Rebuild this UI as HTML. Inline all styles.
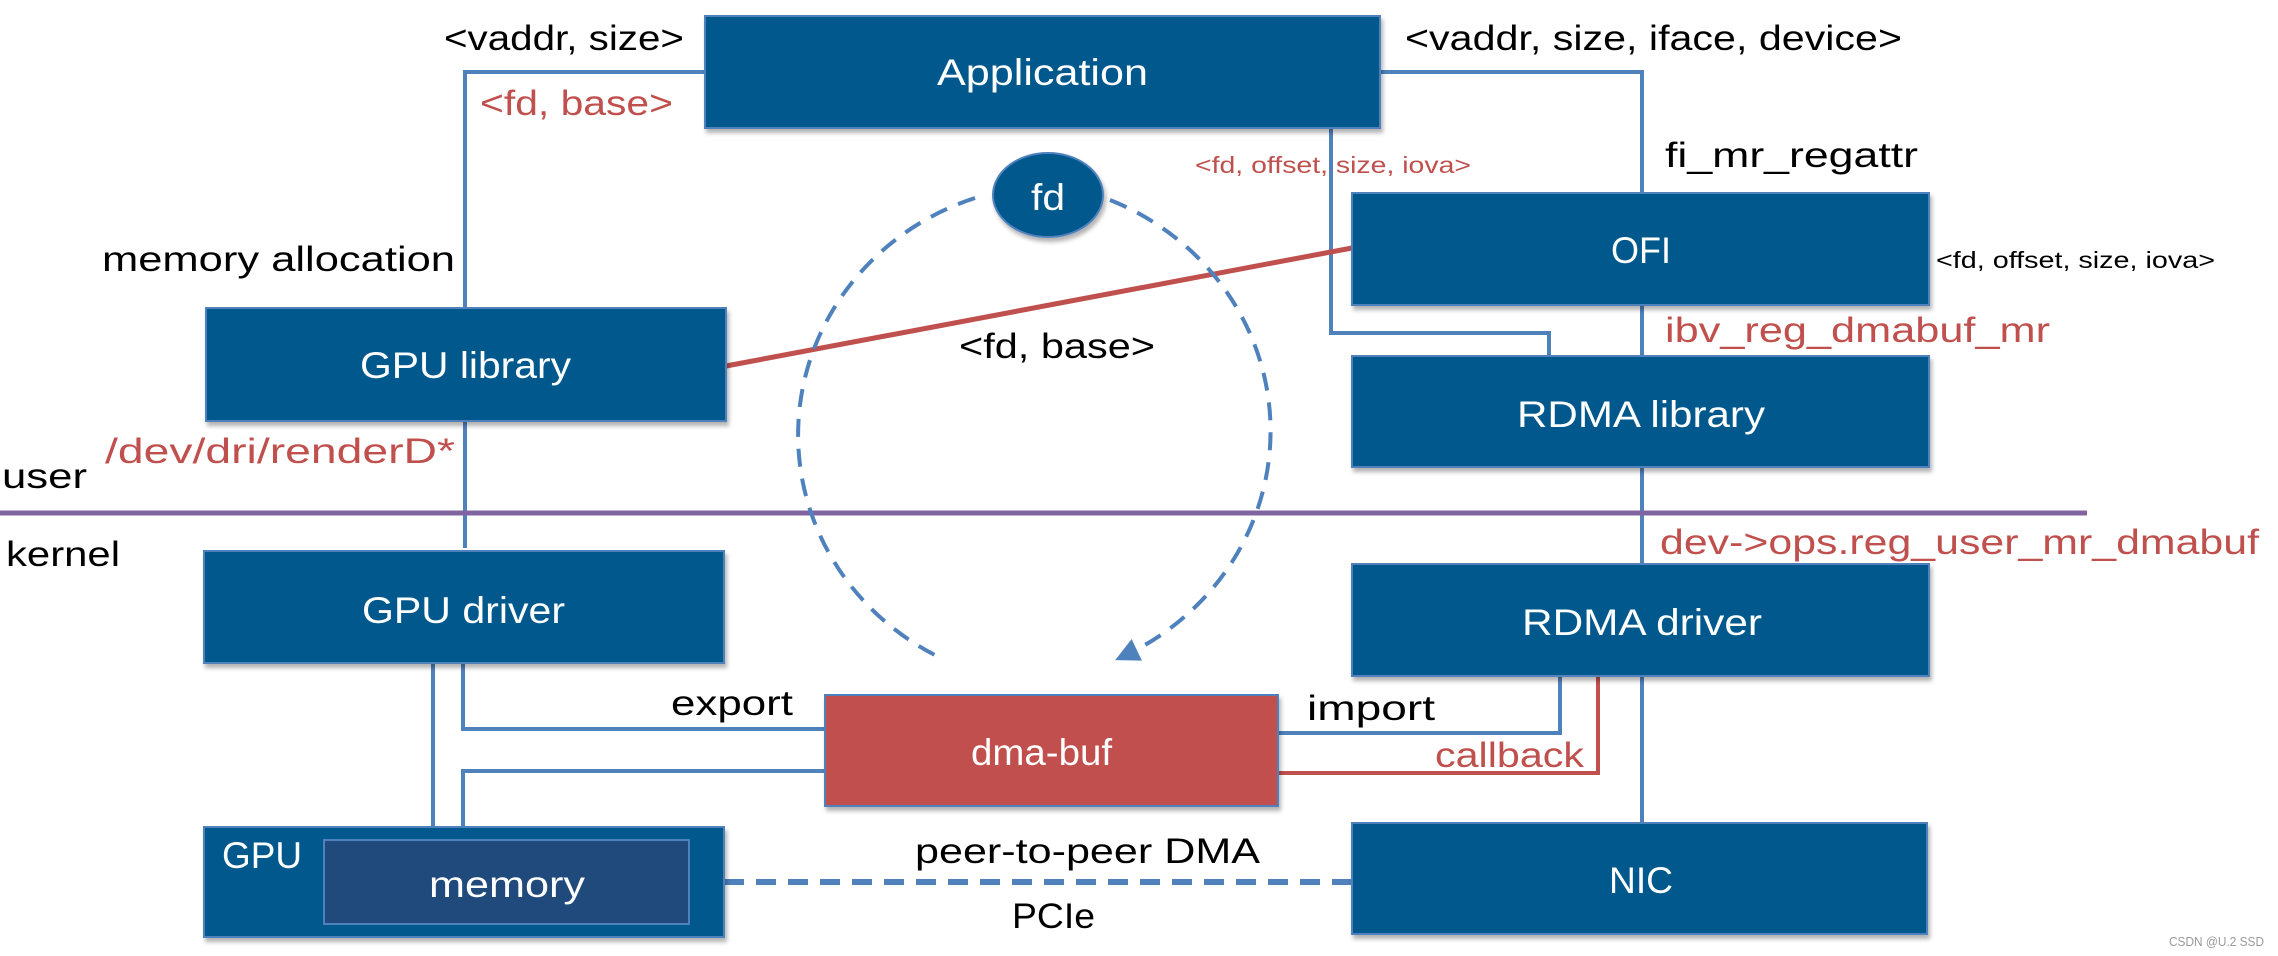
<!DOCTYPE html>
<html><head><meta charset="utf-8"><style>
html,body{margin:0;padding:0;background:#fff;}
svg{display:block;}
text{font-family:"Liberation Sans",sans-serif;}
.w{fill:#fff;font-size:37px;}
.b{fill:#000;font-size:35px;}
.r{fill:#C0504D;font-size:35px;}
</style></head><body>
<svg width="2278" height="956" viewBox="0 0 2278 956" xmlns="http://www.w3.org/2000/svg">
<defs>
<filter id="sh" x="-5%" y="-5%" width="110%" height="120%"><feDropShadow dx="2" dy="4" stdDeviation="2" flood-color="#000" flood-opacity="0.3"/></filter>
<marker id="ah" viewBox="0 0 10 10" refX="5" refY="5" markerWidth="6" markerHeight="6" orient="auto"><path d="M0,0 L10,5 L0,10 z" fill="#4F81BD"/></marker>
</defs>
<g stroke="#4F81BD" stroke-width="4" fill="none">
<polyline points="705,72 465,72 465,308"/>
<line x1="465" y1="421" x2="465" y2="548"/>
<polyline points="1380,72 1642,72 1642,193"/>
<polyline points="1331,128 1331,333 1549,333 1549,356"/>
<line x1="1642" y1="305" x2="1642" y2="356"/>
<line x1="1642" y1="467" x2="1642" y2="564"/>
<line x1="1642" y1="676" x2="1642" y2="823"/>
<line x1="433" y1="663" x2="433" y2="827"/>
<polyline points="463,663 463,729 825,729"/>
<polyline points="463,827 463,771 825,771"/>
<polyline points="1560,676 1560,733 1278,733"/>
<line x1="724" y1="882" x2="1352" y2="882" stroke-width="6" stroke-dasharray="20,12"/>
</g>
<polyline points="1598,676 1598,773 1278,773" stroke="#C0504D" stroke-width="4" fill="none"/>
<line x1="726" y1="366" x2="1352" y2="248" stroke="#C0504D" stroke-width="5"/>
<line x1="0" y1="513" x2="2087" y2="513" stroke="#8064A2" stroke-width="5"/>
<g stroke="#4F81BD" stroke-width="4" fill="none" stroke-dasharray="18,12">
<path d="M975,198 A260,250 0 0 0 945,660"/>
<path d="M1110,200 A260,250 0 0 1 1126,655" marker-end="url(#ah)"/>
</g>
<g stroke="#4F81BD" stroke-width="2" filter="url(#sh)">
<rect x="705" y="16" width="675" height="112" fill="#02598C"/>
<rect x="206" y="308" width="520" height="113" fill="#02598C"/>
<rect x="1352" y="193" width="577" height="112" fill="#02598C"/>
<rect x="1352" y="356" width="577" height="111" fill="#02598C"/>
<rect x="204" y="551" width="520" height="112" fill="#02598C"/>
<rect x="1352" y="564" width="577" height="112" fill="#02598C"/>
<rect x="825" y="695" width="453" height="111" fill="#C0504D"/>
<rect x="204" y="827" width="520" height="110" fill="#02598C"/>
<rect x="1352" y="823" width="575" height="111" fill="#02598C"/>
<ellipse cx="1048" cy="195" rx="55" ry="42" fill="#02598C"/>
</g>
<rect x="324" y="840" width="365" height="84" fill="#214A7C" stroke="#4F81BD" stroke-width="2"/>
<text class="w" x="937" y="85" textLength="211" lengthAdjust="spacingAndGlyphs">Application</text>
<text class="w" x="360" y="378" textLength="211" lengthAdjust="spacingAndGlyphs">GPU library</text>
<text class="w" x="1611" y="263" textLength="60" lengthAdjust="spacingAndGlyphs">OFI</text>
<text class="w" x="1517" y="427" textLength="248" lengthAdjust="spacingAndGlyphs">RDMA library</text>
<text class="w" x="362" y="623" textLength="203" lengthAdjust="spacingAndGlyphs">GPU driver</text>
<text class="w" x="1522" y="635" textLength="240" lengthAdjust="spacingAndGlyphs">RDMA driver</text>
<text class="w" x="971" y="765" textLength="141" lengthAdjust="spacingAndGlyphs">dma-buf</text>
<text class="w" x="429" y="897" textLength="156" lengthAdjust="spacingAndGlyphs">memory</text>
<text class="w" x="222" y="868" textLength="80" lengthAdjust="spacingAndGlyphs">GPU</text>
<text class="w" x="1609" y="893" textLength="64" lengthAdjust="spacingAndGlyphs">NIC</text>
<text class="w" x="1031" y="210" textLength="34" lengthAdjust="spacingAndGlyphs">fd</text>
<text class="b" x="444" y="50" textLength="240" lengthAdjust="spacingAndGlyphs">&lt;vaddr, size&gt;</text>
<text class="r" x="480" y="115" textLength="193" lengthAdjust="spacingAndGlyphs">&lt;fd, base&gt;</text>
<text class="b" x="102" y="271" textLength="353" lengthAdjust="spacingAndGlyphs">memory allocation</text>
<text class="b" x="959" y="358" textLength="196" lengthAdjust="spacingAndGlyphs">&lt;fd, base&gt;</text>
<text class="r" x="105" y="463" textLength="350" lengthAdjust="spacingAndGlyphs">/dev/dri/renderD*</text>
<text class="b" x="2" y="488" textLength="85" lengthAdjust="spacingAndGlyphs">user</text>
<text class="b" x="1405" y="50" textLength="497" lengthAdjust="spacingAndGlyphs">&lt;vaddr, size, iface, device&gt;</text>
<text class="r" x="1195" y="173" style="font-size:23px" textLength="276" lengthAdjust="spacingAndGlyphs">&lt;fd, offset, size,  iova&gt;</text>
<text class="b" x="1665" y="167" textLength="253" lengthAdjust="spacingAndGlyphs">fi_mr_regattr</text>
<text class="b" x="1936" y="268" style="font-size:23px" textLength="279" lengthAdjust="spacingAndGlyphs">&lt;fd, offset, size,  iova&gt;</text>
<text class="r" x="1665" y="342" textLength="385" lengthAdjust="spacingAndGlyphs">ibv_reg_dmabuf_mr</text>
<text class="b" x="6" y="566" textLength="114" lengthAdjust="spacingAndGlyphs">kernel</text>
<text class="r" x="1660" y="554" textLength="599" lengthAdjust="spacingAndGlyphs">dev-&gt;ops.reg_user_mr_dmabuf</text>
<text class="b" x="671" y="715" textLength="122" lengthAdjust="spacingAndGlyphs">export</text>
<text class="b" x="1307" y="720" textLength="128" lengthAdjust="spacingAndGlyphs">import</text>
<text class="r" x="1435" y="767" textLength="149" lengthAdjust="spacingAndGlyphs">callback</text>
<text class="b" x="915" y="863" textLength="345" lengthAdjust="spacingAndGlyphs">peer-to-peer DMA</text>
<text class="b" x="1012" y="928" textLength="83" lengthAdjust="spacingAndGlyphs">PCIe</text>
<text x="2169" y="946" style="font-size:13px;fill:#999" textLength="95" lengthAdjust="spacingAndGlyphs">CSDN @U.2 SSD</text>
</svg>
</body></html>
